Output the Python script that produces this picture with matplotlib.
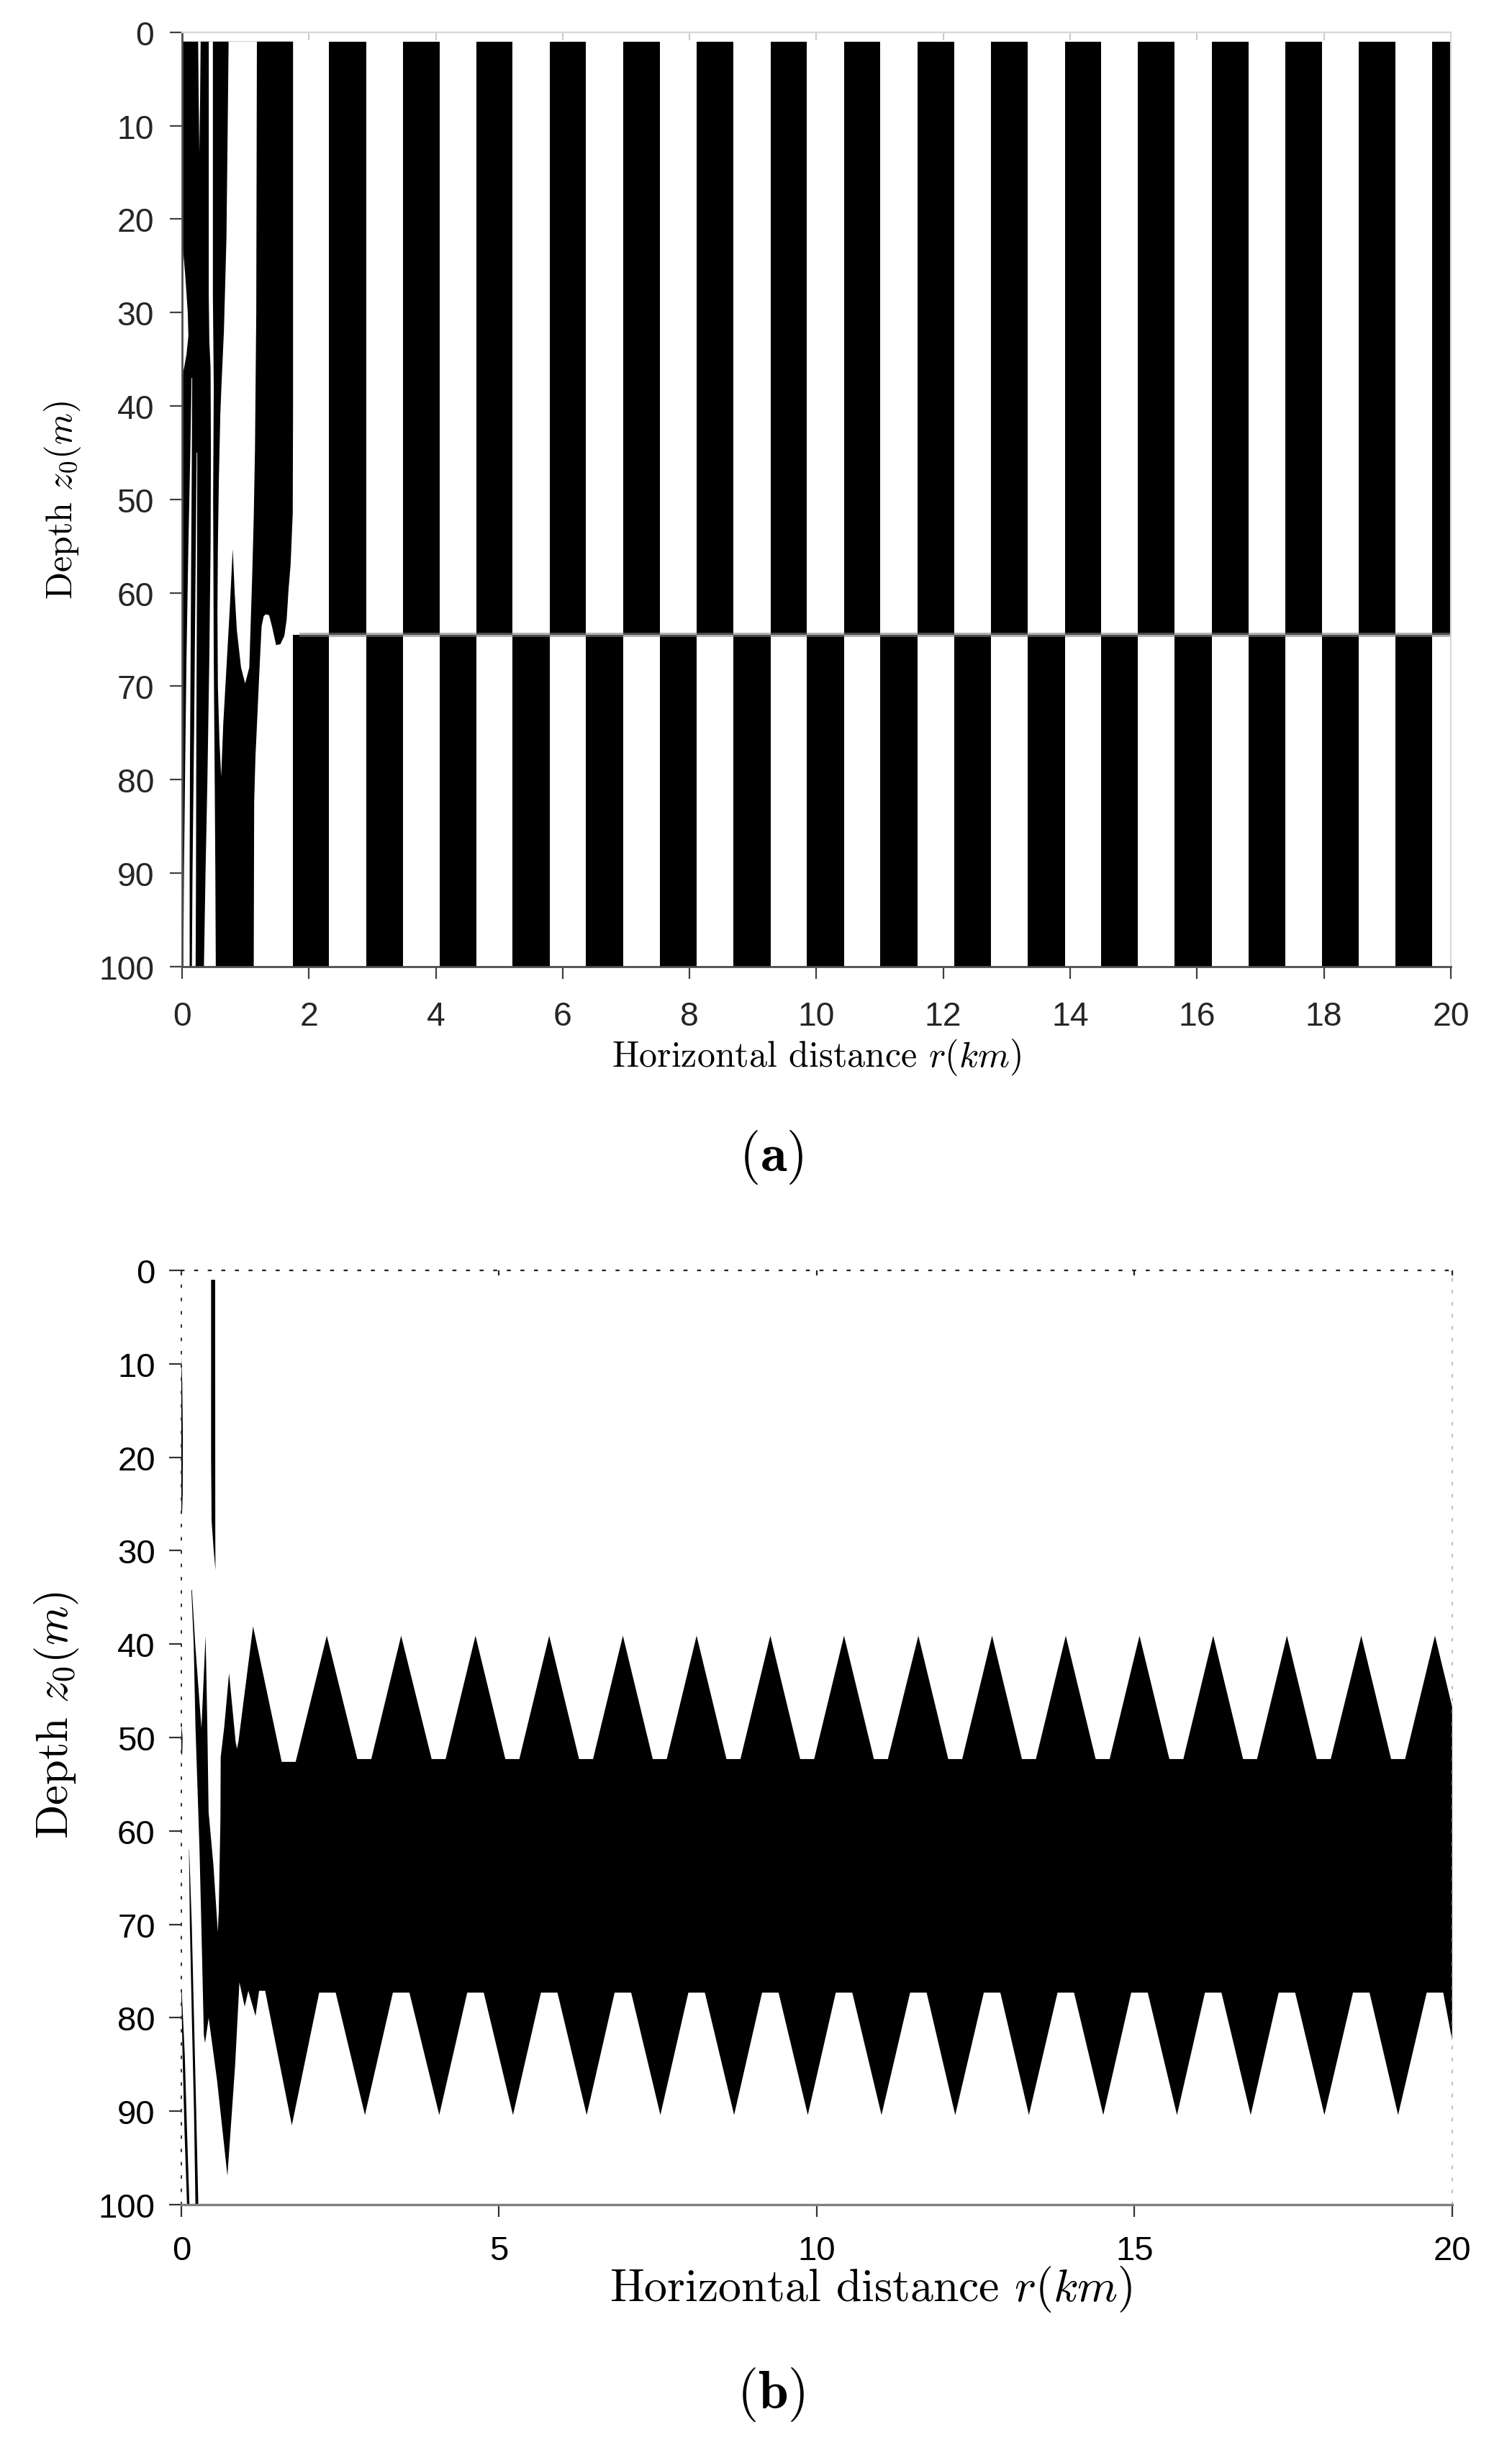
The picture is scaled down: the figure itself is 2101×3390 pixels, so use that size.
import numpy as np
import matplotlib.pyplot as plt

plt.rcParams['font.family'] = ['Liberation Sans', 'DejaVu Sans']
plt.rcParams['mathtext.fontset'] = 'cm'

r_ticks_a = [0, 2, 4, 6, 8, 10, 12, 14, 16, 18, 20]
r_ticks_b = [0, 5, 10, 15, 20]
z_ticks = [0, 10, 20, 30, 40, 50, 60, 70, 80, 90, 100]

# ---------- panel (a): stripes above / below the 64.5 m jump (km)
a_top_left = [2.32, 3.48, 4.64, 5.80, 6.95, 8.11, 9.28, 10.44, 11.59, 12.75, 13.92,
              15.07, 16.23, 17.39, 18.55, 19.71]
a_top_right = [2.90, 4.06, 5.21, 6.37, 7.53, 8.69, 9.85, 11.01, 12.17, 13.33, 14.49,
               15.64, 16.81, 17.97, 19.13, 20.0]
a_bot_left = [1.75, 2.90, 4.06, 5.21, 6.37, 7.53, 8.69, 9.85, 11.01, 12.17, 13.33,
              14.49, 15.64, 16.81, 17.97, 19.13]
a_bot_right = [2.32, 3.48, 4.64, 5.80, 6.95, 8.11, 9.28, 10.44, 11.59, 12.75, 13.92,
               15.07, 16.23, 17.39, 18.55, 19.71]
z_first = 1.0
z_switch = 64.5

# near field of (a): black block and white cut-outs (r km, z m)
a_near_r = [0, 1.75, 1.75, 1.745, 1.711, 1.678, 1.65, 1.613, 1.55, 1.483, 1.418, 1.372,
            1.32, 1.287, 1.254, 1.222, 1.19, 1.157, 1.137, 1.13, 0]
a_near_z = [1, 1, 40, 51.5, 57, 59.7, 62.8, 64.6, 65.5, 65.6, 63.6, 62.4,
            62.3, 62.5, 63.6, 68, 72.8, 77.6, 82.4, 100, 100]
a_w1_r = [0.254, 0.293, 0.285, 0.273, 0.262]
a_w1_z = [1, 1, 7, 13, 7]
a_w2_r = [0.421, 0.421, 0.43, 0.45, 0.455, 0.45, 0.43, 0.40, 0.37, 0.345,
          0.532, 0.525, 0.515, 0.50, 0.49, 0.50, 0.486, 0.486]
a_w2_z = [1, 28, 33, 36, 45, 55, 67, 80, 90, 100,
          100, 90, 80, 67, 50, 38, 28, 1]
a_w3_r = [0.734, 0.72, 0.70, 0.66, 0.62, 0.603, 0.58, 0.565, 0.558, 0.565, 0.59, 0.617,
          0.65, 0.70, 0.75, 0.799, 0.83, 0.864, 0.93, 0.995, 1.06, 1.105, 1.13, 1.15,
          1.17, 1.18]
a_w3_z = [1, 10, 22, 32, 38, 41, 48, 55, 62, 70, 76, 79.7,
          74, 68, 62, 55.3, 60, 64, 68, 69.7, 68, 58.4, 52, 44.6,
          30, 1]
a_w4_r = [0, 0.05, 0.09, 0.10, 0.07, 0.03, 0]
a_w4_z = [22, 26, 30, 32.5, 34.5, 36, 37]
a_w5_r = [0.15, 0.13, 0.10, 0.07, 0.05, 0.03, 0.02, 0.12, 0.12, 0.125, 0.135, 0.145,
          0.155, 0.16]
a_w5_z = [37, 45, 55, 67, 78, 90, 100, 100, 90, 78, 67, 55, 45, 37]
a_w6_r = [0.23, 0.21, 0.19, 0.165, 0.155, 0.214, 0.22, 0.225, 0.235, 0.24]
a_w6_z = [45, 60, 75, 90, 100, 100, 90, 75, 60, 45]

# ---------- panel (b): black band with periodic edges
b_peak_r = [1.13, 2.29, 3.46, 4.63, 5.79, 6.95, 8.11, 9.27, 10.43, 11.60, 12.76, 13.92,
            15.08, 16.24, 17.40, 18.57, 19.73]
b_peak_z = [38.1, 39.1, 39.1, 39.1, 39.1, 39.1, 39.1, 39.1, 39.1, 39.1, 39.1, 39.1,
            39.1, 39.1, 39.1, 39.1, 39.1]
# flat bottoms of the upper edge
b_trough_left = [1.58, 2.77, 3.94, 5.10, 6.26, 7.42, 8.58, 9.74, 10.90, 12.07, 13.23,
                 14.39, 15.55, 16.71, 17.87, 19.04]
b_trough_right = [1.80, 2.99, 4.16, 5.32, 6.48, 7.64, 8.80, 9.96, 11.12, 12.29, 13.45,
                  14.61, 15.77, 16.93, 18.09, 19.26]
b_trough_z = [52.6, 52.3, 52.3, 52.3, 52.3, 52.3, 52.3, 52.3, 52.3, 52.3, 52.3,
              52.3, 52.3, 52.3, 52.3, 52.3]
# flat tops of the lower edge
b_shallow_left = [2.17, 3.33, 4.50, 5.66, 6.82, 7.98, 9.14, 10.30, 11.47, 12.63, 13.79,
                  14.95, 16.11, 17.27, 18.44, 19.60]
b_shallow_right = [2.43, 3.59, 4.76, 5.92, 7.08, 8.24, 9.40, 10.56, 11.73, 12.89, 14.05,
                   15.21, 16.37, 17.53, 18.70, 19.86]
b_shallow_z = [77.3, 77.3, 77.3, 77.3, 77.3, 77.3, 77.3, 77.3, 77.3, 77.3, 77.3,
               77.3, 77.3, 77.3, 77.3, 77.3]
b_deep_r = [1.74, 2.89, 4.06, 5.22, 6.38, 7.54, 8.70, 9.86, 11.02, 12.18, 13.34, 14.51,
            15.67, 16.83, 17.99, 19.15]
b_deep_z = [91.5, 90.4, 90.4, 90.4, 90.4, 90.4, 90.4, 90.4, 90.4, 90.4, 90.4, 90.4,
            90.4, 90.4, 90.4, 90.4]
b_end_r = [20.0, 20.0]
b_end_z = [46.7, 82.4]

# near-field outline of the band
b_wedge_r = [0.575, 0.59, 0.616, 0.62, 0.677, 0.752, 0.854, 0.877, 0.90]
b_wedge_z = [70.8, 68.5, 58.7, 52.1, 48.8, 43.1, 50.4, 51.2, 50.4]
b_low_r = [1.32, 1.225, 1.168, 1.055, 0.998, 0.915, 0.847, 0.726, 0.563, 0.431, 0.374, 0.355]
b_low_z = [77.1, 77.1, 79.8, 77.1, 78.8, 76.2, 85.1, 96.9, 86.7, 80.0, 82.7, 81.8]
b_left_r = [0.325, 0.287, 0.223, 0.196, 0.159]
b_left_z = [72.9, 62.0, 48.8, 40.1, 34.2]
b_streak_r = [0.168, 0.22, 0.28, 0.317, 0.35, 0.382, 0.393, 0.41, 0.43, 0.505]
b_streak_z = [34.2, 40.1, 45.6, 49.0, 44.0, 39.1, 42.6, 48.8, 58.0, 63.6]

# isolated thin patches near the source
b_p1_r = [0, 0.015, 0.025, 0.022, 0.012, 0]
b_p1_z = [9.1, 12, 18, 24, 26, 26]
b_p2_r = [0, 0.02, 0.015, 0]
b_p2_z = [48.5, 50.0, 51.8, 51.8]
b_p3_r = [0.469, 0.533, 0.535, 0.538, 0.507, 0.477, 0.469]
b_p3_z = [1, 1, 28, 32.1, 29.7, 26.8, 20]
b_p4_r = [0.0, 0.02, 0.05, 0.09, 0.128, 0.09, 0.055, 0.008]
b_p4_z = [77.2, 84, 92, 100, 100, 92, 84, 77.2]
b_p5_r = [0.121, 0.135, 0.166, 0.20, 0.223, 0.268, 0.235, 0.2, 0.165, 0.125]
b_p5_z = [62, 70, 80, 90, 100, 100, 90, 80, 70, 62]

fig = plt.figure(figsize=(10.505, 16.955), dpi=200)
ax_a = fig.add_axes([0.1204, 0.6037, 0.8391, 0.3828])
ax_b = fig.add_axes([0.1199, 0.0964, 0.8405, 0.3828])

# ---- (a)
ax_a.fill(a_near_r, a_near_z, color='k', lw=0)
for wr, wz in [(a_w1_r, a_w1_z), (a_w2_r, a_w2_z), (a_w3_r, a_w3_z),
               (a_w4_r, a_w4_z), (a_w5_r, a_w5_z), (a_w6_r, a_w6_z)]:
    ax_a.fill(wr, wz, color='w', lw=0)
ax_a.bar(a_top_left, z_switch - z_first, width=np.subtract(a_top_right, a_top_left),
         bottom=z_first, align='edge', color='k', linewidth=0)
ax_a.bar(a_bot_left, 100 - z_switch, width=np.subtract(a_bot_right, a_bot_left),
         bottom=z_switch, align='edge', color='k', linewidth=0)
ax_a.fill_between([1.85, 20], z_switch - 0.2, z_switch + 0.2, color='0.5', alpha=0.6, lw=0)

# ---- (b)
up_r = np.concatenate([b_peak_r, b_trough_left, b_trough_right])
up_z = np.concatenate([b_peak_z, b_trough_z, b_trough_z])
up = np.argsort(up_r)
lo_r = np.concatenate([b_shallow_left, b_shallow_right, b_deep_r])
lo_z = np.concatenate([b_shallow_z, b_shallow_z, b_deep_z])
lo = np.argsort(lo_r)[::-1]
band_r = np.concatenate([b_wedge_r, up_r[up], b_end_r, lo_r[lo], b_low_r, b_left_r, b_streak_r])
band_z = np.concatenate([b_wedge_z, up_z[up], b_end_z, lo_z[lo], b_low_z, b_left_z, b_streak_z])
ax_b.fill(band_r, band_z, color='k', lw=0)
for pr, pz in [(b_p1_r, b_p1_z), (b_p2_r, b_p2_z), (b_p3_r, b_p3_z),
               (b_p4_r, b_p4_z), (b_p5_r, b_p5_z)]:
    ax_b.fill(pr, pz, color='k', lw=0)

label_font = dict(family='cmr10')
for ax, rt in [(ax_a, r_ticks_a), (ax_b, r_ticks_b)]:
    ax.set_xlim(0, 20)
    ax.set_ylim(100, 0)
    ax.set_xticks(rt)
    ax.set_yticks(z_ticks)

# styling (a)
ax_a.tick_params(direction='out', length=6, width=0.8, color='#404040',
                 labelsize=16.7, labelcolor='#262626')
ax_a.tick_params(axis='x', pad=11)
ax_a.tick_params(axis='y', pad=8)
for s in ['left', 'bottom']:
    ax_a.spines[s].set_color('#4d4d4d')
    ax_a.spines[s].set_linewidth(1.0)
for s in ['top', 'right']:
    ax_a.spines[s].set_color('#d9d9d9')
    ax_a.spines[s].set_linewidth(0.8)
sec_a = ax_a.secondary_xaxis('top')
sec_a.set_xticks(r_ticks_a)
sec_a.tick_params(direction='in', length=4, width=0.8, color='#cccccc', labeltop=False)
sec_a.spines['top'].set_color('#d9d9d9')
sec_a.spines['top'].set_linewidth(0.8)

ax_a.set_xlabel(r'Horizontal distance $r(km)$', fontsize=18, **label_font)
ax_a.xaxis.set_label_coords(0.5, -0.0963)
ax_a.xaxis.label.set_va('center')
ax_a.set_ylabel(r'Depth $z_0(m)$', fontsize=18, **label_font)
ax_a.yaxis.set_label_coords(-0.0942, 0.5)
ax_a.yaxis.label.set_va('center')

# styling (b)
ax_b.tick_params(direction='out', length=6, width=0.8, color='#333333',
                 labelsize=17, labelcolor='black')
ax_b.tick_params(axis='x', pad=9)
ax_b.tick_params(axis='y', pad=7)
ax_b.spines['bottom'].set_color('#7f7f7f')
ax_b.spines['bottom'].set_linewidth(1.2)
ax_b.spines['left'].set_color('#333333')
ax_b.spines['left'].set_linewidth(0.7)
ax_b.spines['left'].set_linestyle((0, (1.5, 8)))
ax_b.spines['top'].set_color('#222222')
ax_b.spines['top'].set_linewidth(0.8)
ax_b.spines['top'].set_linestyle((0, (1.5, 7)))
ax_b.spines['right'].set_color('#b0b0b0')
ax_b.spines['right'].set_linewidth(0.6)
ax_b.spines['right'].set_linestyle((0, (2, 8)))
sec_b = ax_b.secondary_xaxis('top')
sec_b.set_xticks(r_ticks_b)
sec_b.tick_params(direction='in', length=2.5, width=0.8, color='#222222', labeltop=False)
sec_b.spines['top'].set_visible(False)

ax_b.set_xlabel(r'Horizontal distance $r(km)$', fontsize=23, **label_font)
ax_b.xaxis.set_label_coords(0.337, -0.0894)
ax_b.xaxis.label.set_va('center')
ax_b.xaxis.label.set_ha('left')
ax_b.set_ylabel(r'Depth $z_0(m)$', fontsize=22.5, **label_font)
ax_b.yaxis.set_label_coords(-0.098, 0.525)
ax_b.yaxis.label.set_va('center')

fig.text(0.5103, 0.5258, r'$(\mathbf{a})$', ha='center', va='center', fontsize=27)
fig.text(0.5098, 0.0189, r'$(\mathbf{b})$', ha='center', va='center', fontsize=27)

fig.savefig('out.png', dpi=200)
